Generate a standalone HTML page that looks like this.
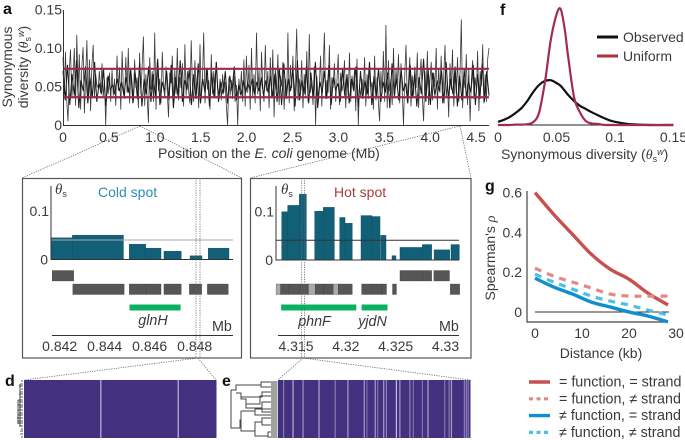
<!DOCTYPE html>
<html>
<head>
<meta charset="utf-8">
<title>Synonymous diversity figure</title>
<style>
html,body{margin:0;padding:0;background:#fff}
svg{display:block}
text{font-family:"Liberation Sans",sans-serif;fill:#3a3a3a}
.t{font-size:14px}
.s{font-size:14.3px}
.lt{font-size:16px;font-weight:bold;fill:#111}
.i{font-style:italic}
.dot{stroke:#666;stroke-width:.8;stroke-dasharray:1.2 1.2;fill:none}
</style>
</head>
<body>
<svg id="fig" xmlns="http://www.w3.org/2000/svg" width="685" height="440" viewBox="0 0 685 440">
  <g id="connectors">
    <path class="dot" d="M140,126L22,178"/>
    <path class="dot" d="M140,126L242,178"/>
    <path class="dot" d="M460,126L250,178"/>
    <path class="dot" d="M460,126L471,178"/>
    <path class="dot" d="M198,358L24,380"/>
    <path class="dot" d="M198,358L216,380"/>
    <path class="dot" d="M303,358L278,380"/>
    <path class="dot" d="M303,358L470,380"/>
  </g>

  <text class="lt" x="3" y="14">a</text>
  <text class="lt" x="500" y="15">f</text>
  <text class="lt" x="31" y="192">b</text>
  <text class="lt" x="256" y="192">c</text>
  <text class="lt" x="5" y="386">d</text>
  <text class="lt" x="222" y="386">e</text>
  <text class="lt" x="485" y="191">g</text>

  <g id="panelA">
    <text class="t" transform="translate(12,67) rotate(-90)" text-anchor="middle">Synonymous</text>
    <text class="t" transform="translate(28,67) rotate(-90)" text-anchor="middle">diversity (<tspan class="i" font-family="Liberation Serif">θ</tspan><tspan font-size="9" dy="3">s</tspan><tspan class="i" font-size="9" dy="-7">w</tspan><tspan dy="4">)</tspan></text>
    <text class="t" x="158" y="158">Position on the <tspan class="i">E. coli</tspan> genome (Mb)</text>
  </g>

  <g id="panelF">
    <text class="t" x="501" y="159">Synonymous diversity (<tspan class="i" font-family="Liberation Serif">θ</tspan><tspan font-size="9" dy="3">s</tspan><tspan class="i" font-size="9" dy="-7">w</tspan><tspan dy="4">)</tspan></text>
    <line x1="597" x2="618" y1="37" y2="37" stroke="#111" stroke-width="3"/>
    <text class="t" x="623" y="42">Observed</text>
    <line x1="597" x2="618" y1="56" y2="56" stroke="#ab3236" stroke-width="3"/>
    <text class="t" x="623" y="61">Uniform</text>
  </g>

  <g id="panelB">
    <rect x="22.5" y="178.5" width="219" height="179.5" fill="#fff" stroke="#555" stroke-width="1.2"/>
    <text x="98" y="197" font-size="14" style="fill:#2b8db0">Cold spot</text>
    <text x="55" y="194"><tspan class="i" font-size="15" font-family="Liberation Serif">θ</tspan><tspan font-size="9" dy="3">s</tspan></text>
    <text class="s" x="212" y="331">Mb</text>
    <text class="i s" x="153" y="325" text-anchor="middle">glnH</text>
  </g>

  <g id="panelC">
    <rect x="250.5" y="178.5" width="220.5" height="179.5" fill="#fff" stroke="#555" stroke-width="1.2"/>
    <text x="334" y="197" font-size="14" style="fill:#a83c3c">Hot spot</text>
    <text x="281" y="194"><tspan class="i" font-size="15" font-family="Liberation Serif">θ</tspan><tspan font-size="9" dy="3">s</tspan></text>
    <text class="s" x="439" y="331">Mb</text>
    <text class="i s" x="314.5" y="326" text-anchor="middle">phnF</text>
    <text class="i s" x="372.5" y="326" text-anchor="middle">yjdN</text>
  </g>

  <g id="panelD">
    <path d="M23,381H21M23,384H20M23,386H19M23,389H21M23,392H20M23,394H19M23,397H20M23,400H18M23,402H19M23,405H18M23,407H19M23,410H18M23,413H19M23,415H18M23,418H17M23,421H18M23,423H18M23,426H19M23,429H21M23,431H20M23,434H20M23,437H21M20,384V426M18,400V424" stroke="#222" stroke-width=".8" fill="none"/>
  </g>

  <g id="panelE">
    <path d="M231,390V428H240M231,390H236V385H261V382H272M261,385V387H272M236,393H241V397H262V392H272M241,397V399H246V404H260V396H272M246,404V408H262V402H272M262,408V412H272M240,428V420H241M241,411H255V415H272M241,411V431H255M255,415V409H272M255,431V422H262V418H272M262,422V425H272M255,431V436H268V432H272M268,436V437H272" stroke="#444" stroke-width="1" fill="none"/>
    <rect x="271" y="381" width="6.5" height="57" fill="#a2a2a2"/>
  </g>

  <g id="panelG">
    <text class="t" transform="translate(495,258) rotate(-90)" text-anchor="middle">Spearman's <tspan class="i" font-family="Liberation Serif">ρ</tspan></text>
    <text class="t" x="601" y="358" text-anchor="middle">Distance (kb)</text>
  </g>
</svg>

<script>
const NS = 'http://www.w3.org/2000/svg';

/* panel a */
const thetaTrack = [
88,40,95,30,5,72,98,35,60,100,25,117,45,92,20,75,101,15,60,110,
30,85,18,78,104,35,66,52,48,70,42,80,35,58,0,62,40,68,30,72,
38,60,25,90,45,75,20,96,50,34,88,42,100,28,70,55,30,85,48,62,
22,94,40,78,115,25,66,35,3,88,46,70,30,120,20,82,44,60,28,95,
50,35,76,42,10,68,54,90,26,72,40,100,32,62,48,80,24,105,38,70,
45,28,110,52,30,84,44,66,22,105,36,60,120,28,74,46,58,20,92,40,
70,35,82,48,40,60,32,66,42,56,25,0,62,38,58,34,64,30,52,0,
60,40,70,30,85,24,90,42,78,20,100,35,66,28,120,40,72,18,95,48,
30,104,44,70,22,88,36,98,10,74,46,92,26,64,50,82,20,60,34,120,
28,78,48,90,18,70,125,32,60,44,84,22,66,38,96,30,118,42,58,26,
76,0,64,36,52,90,24,70,120,34,58,42,104,20,62,48,80,30,56,92,
26,68,44,54,84,22,60,38,94,30,64,48,72,18,86,0,52,36,60,42,
88,24,66,34,78,46,56,20,90,32,62,28,5,70,40,96,30,130,22,84,
44,60,26,100,36,72,50,92,28,80,42,0,66,104,30,56,88,24,64,38,
76,48,94,22,60,86,34,5,70,44,96,26,58,82,32,68,50,100,20,74,
42,90,28,62,104,36,54,10,80,46,98,24,66,40,88,30,70,137,22,60,
48,92,26,74,5,58,84,34,62,44,96,18,70,50,105,28,66,30,86,100];
const thetaTrackWindowed = [
70,32,78,26,66,38,84,22,58,44,76,28,62,36,82,30,54,40,72,24,
64,46,52,40,60,44,56,38,62,42,74,28,68,34,80,24,60,40,76,30,
66,36,86,26,56,44,70,32,78,22,62,38,84,30,58,46,72,26,66,34,
80,28,60,42,74,24,68,36,82,30,56,40,70,28,64,44,76,32,52,38,
58,42,54,46,60,40,56,44,62,38,58,42,64,36,66,30,74,26,80,34,
60,44,72,24,84,32,58,40,76,28,68,36,82,22,56,42,70,34,78,26,
62,46,54,30,72,38,66,28,60,44,76,24,70,34,58,40,82,26,64,36,
74,30,56,42,68,22,80,38,60,32,72,44,54,28,78,36,66,24,62,40,
86,30,74,26,68,38,58,44,70,28,82,34,60,40,76,24,64,32,72,36,
56,42,78,26,66,34,80,30,70,38];
const thetaThresholds = [0.073, 0.036];
const genomeTicks = [0, 0.5, 1.0, 1.5, 2.0, 2.5, 3.0, 3.5, 4.0, 4.5];
const genomeTickLabels = ['0', '0.5', '1.0', '1.5', '2.0', '2.5', '3.0', '3.5', '4.0', '4.5'];
const thetaTicks = [0, 0.05, 0.10, 0.15];
const thetaTickLabels = ['0', '0.05', '0.10', '0.15'];
const genomeLengthMb = 4.64;

/* panel f */
const densityGrid = [0,0.005,0.01,0.015,0.02,0.025,0.03,0.035,0.04,0.045,0.05,0.0535,0.057,0.06,0.065,0.07,0.075,0.08,0.085,0.09,0.095,0.1,0.11,0.12,0.13,0.15];
const densityObserved = [0.8,1.3,2,3,4.2,6,8.2,10,11,11.2,10.5,9.8,8.6,7.5,6,4.8,4,3.2,2.5,1.8,1.2,0.8,0.3,0.1,0,0];
const densityUniform = [0,0,0,0.1,0.1,0.2,0.7,3,10.5,21,27.6,29,24,17,7,3.2,1,0.4,0.3,0.05,0,0,0,0,0,0];
const densityTicks = [0, 0.05, 0.1, 0.15];
const densityTickLabels = ['0', '0.05', '0.1', '0.15'];

/* panel b */
const coldBarStart = [0.84148,0.84243,0.84496,0.84569,0.84650,0.84766,0.84847];
const coldBarEnd = [0.84243,0.84470,0.84569,0.84637,0.84727,0.84819,0.84939];
const coldBarTheta = [0.0445,0.05,0.0315,0.0233,0.017,0.0075,0.0233];
const coldMean = 0.04;
const coldTicks = [0.842,0.844,0.846,0.848];
const coldTickLabels = ['0.842','0.844','0.846','0.848'];
const coldGeneStart = [0.84153,0.84245,0.84496,0.84570,0.84650,0.84763,0.84843];
const coldGeneEnd = [0.84249,0.84473,0.84570,0.84637,0.84727,0.84818,0.84936];
const coldGeneRow = [0,1,1,1,1,1,1];
const coldCdsStart = [0.84497];
const coldCdsEnd = [0.84724];

/* panel c */
const hotBarStart = [4.31326,4.31386,4.31503,4.31657,4.31744,4.31908,4.31962,4.32122,4.32232,4.32319,4.32433,4.32513,4.32737,4.32855,4.33025];
const hotBarEnd = [4.31386,4.31503,4.31574,4.31744,4.31855,4.31962,4.32035,4.32232,4.32313,4.32373,4.32473,4.32737,4.32831,4.33012,4.33109];
const hotBarTheta = [0.1,0.113,0.136,0.101,0.109,0.088,0.076,0.092,0.09,0.051,0.009,0.026,0.032,0.021,0.032];
const hotMean = 0.041;
const hotTicks = [4.315,4.32,4.325,4.33];
const hotTickLabels = ['4.315','4.32','4.325','4.33'];
const hotGeneStart = [4.31270,4.31315,4.31398,4.31518,4.31595,4.31662,4.31746,4.31843,4.31893,4.32128,4.32235,4.32328,4.32438,4.32513,4.32737,4.32853,4.33018];
const hotGeneEnd = [4.31315,4.31398,4.31518,4.31595,4.31662,4.31746,4.31843,4.31893,4.32035,4.32235,4.32328,4.32378,4.32478,4.32737,4.32831,4.33010,4.33112];
const hotGeneRow = [1,1,1,1,1,1,1,1,1,1,1,1,1,0,0,0,1];
const hotGeneLight = [1,0,0,0,1,0,0,1,0,0,0,0,0,0,0,0,0];
const hotCdsStart = [4.31321,4.32128];
const hotCdsEnd = [4.32075,4.32388];

/* panels d, e */
const coldSiteColumn = [39.6, 79.8];
const coldSiteStrength = [0.8, 0.8];
const hotSiteColumn = [2.6,7.5,12.7,21,29.4,36,44.5,45.9,50.2,51.5,54.6,56,61.2,63,68.2,70,74.7,77.6,86.3,88.6,89.8,96.5,97.5,98.5];
const hotSiteStrength = [0.45,0.75,0.6,0.7,0.45,0.65,0.65,0.35,0.65,0.4,0.65,0.5,0.85,0.65,0.5,0.4,0.4,0.7,0.4,0.45,0.65,0.45,0.5,0.45];

/* panel g */
const distanceKb = [0,4,8,12,16,20,24,28.3];
const rhoSameSame = [0.6,0.49,0.39,0.29,0.215,0.165,0.095,0.035];
const rhoSameDiff = [0.22,0.18,0.15,0.12,0.09,0.08,0.08,0.08];
const rhoDiffSame = [0.17,0.125,0.09,0.05,0.025,0.0,-0.02,-0.05];
const rhoDiffDiff = [0.19,0.15,0.115,0.08,0.055,0.035,0.01,-0.015];
const rhoTicks = [0,0.2,0.4,0.6];
const rhoTickLabels = ['0','0.2','0.4','0.6'];
const distanceTicks = [0,10,20,30];
const distanceTickLabels = ['0','10','20','30'];
const rhoLegendLabels = ['= function, = strand','= function, ≠ strand','≠ function, = strand','≠ function, ≠ strand'];

function mk(tag, attrs, parent, txt) {
  const e = document.createElementNS(NS, tag);
  for (const k in attrs) e.setAttribute(k, attrs[k]);
  if (txt !== undefined) e.textContent = txt;
  parent.appendChild(e);
  return e;
}
const $ = id => document.getElementById(id);

function smoothPath(pts) {
  let d = 'M' + pts[0][0].toFixed(1) + ',' + pts[0][1].toFixed(1);
  for (let i = 0; i < pts.length - 1; i++) {
    const p0 = pts[Math.max(i - 1, 0)], p1 = pts[i], p2 = pts[i + 1], p3 = pts[Math.min(i + 2, pts.length - 1)];
    const c1x = p1[0] + (p2[0] - p0[0]) / 6, c1y = p1[1] + (p2[1] - p0[1]) / 6;
    const c2x = p2[0] - (p3[0] - p1[0]) / 6, c2y = p2[1] - (p3[1] - p1[1]) / 6;
    d += 'C' + c1x.toFixed(1) + ',' + c1y.toFixed(1) + ' ' + c2x.toFixed(1) + ',' + c2y.toFixed(1) + ' ' + p2[0].toFixed(1) + ',' + p2[1].toFixed(1);
  }
  return d;
}

/* ---- panel a ---- */
const xA = mb => 63 + mb * 91.8;
const yA = v => 125 - v * 770;
{
  const p = $('panelA');
  const toPts = arr => arr.map((v, i) => xA(i / (arr.length - 1) * genomeLengthMb).toFixed(1) + ',' + yA(v / 1000).toFixed(1)).join(' ');
  let el = mk('polyline', {points: toPts(thetaTrack), fill: 'none', stroke: '#3a3a3a', 'stroke-width': 0.8}, p);
  
  
  el = mk('polyline', {points: toPts(thetaTrackWindowed), fill: 'none', stroke: '#1a1a1a', 'stroke-width': 1}, p);
  
  
  thetaThresholds.forEach(v => {
    const t = mk('line', {x1: xA(0), x2: xA(genomeLengthMb), y1: yA(v), y2: yA(v), stroke: '#9a2a52', 'stroke-width': 2.2}, p);
    
    
  });
  el = mk('path', {d: 'M63.5,10V125.5H' + xA(genomeLengthMb), fill: 'none', stroke: '#333', 'stroke-width': 1}, p);
  
  
  genomeTicks.forEach((v, i) => {
    const t = mk('text', {class: 't', x: xA(v), y: 142, 'text-anchor': 'middle'}, p, genomeTickLabels[i]);
    
    
  });
  thetaTicks.forEach((v, i) => {
    const t = mk('text', {class: 't', x: 62, y: yA(v) + 5, 'text-anchor': 'end'}, p, thetaTickLabels[i]);
    
    
  });
}

/* ---- panel f ---- */
const xF = v => 498 + v * 1170;
const yF = d => 125 - d * 4;
{
  const p = $('panelF');
  let el = mk('line', {x1: xF(0), x2: xF(0.15), y1: 125, y2: 125, stroke: '#222', 'stroke-width': 1}, p);
  
  
  const path = arr => smoothPath(arr.map((d, i) => [xF(densityGrid[i]), yF(d)]));
  el = mk('path', {d: path(densityObserved), fill: 'none', stroke: '#111', 'stroke-width': 2.2, 'stroke-linejoin': 'round'}, p);
  
  
  el = mk('path', {d: path(densityUniform), fill: 'none', stroke: '#a3295a', 'stroke-width': 2.2, 'stroke-linejoin': 'round'}, p);
  
  
  densityTicks.forEach((v, i) => {
    const t = mk('text', {class: 't', x: xF(v), y: 142, 'text-anchor': 'middle'}, p, densityTickLabels[i]);
    
    
  });
}

/* ---- panels b and c share a drawing routine ---- */
function zoomPanel(p, xS, opts) {
  const yS = v => opts.base - v * opts.yScale;
  opts.barStart.forEach((s, i) => {
    const b = mk('rect', {x: xS(s), y: yS(opts.barTheta[i]), width: xS(opts.barEnd[i]) - xS(s), height: opts.base - yS(opts.barTheta[i]), fill: '#125f78', stroke: '#0e4c60', 'stroke-width': 0.4}, p);
    
    
  });
  let el = mk('line', {x1: opts.axisX, x2: opts.axisEnd, y1: yS(opts.mean), y2: yS(opts.mean), stroke: opts.meanColor, 'stroke-width': 1}, p);
  
  
  el = mk('path', {d: 'M' + opts.axisX + ',' + opts.top + 'V' + opts.base + 'H' + opts.axisEnd, fill: 'none', stroke: '#333', 'stroke-width': 1}, p);
  
  
  el = mk('text', {class: 't', x: opts.axisX - 2, y: yS(0.1) + 5, 'text-anchor': 'end'}, p, '0.1');
  
  
  el = mk('text', {class: 't', x: opts.axisX - 3, y: opts.base + 5, 'text-anchor': 'end'}, p, '0');
  
  
  opts.geneStart.forEach((s, i) => {
    const fill = opts.geneLight && opts.geneLight[i] ? '#a9a9a9' : '#565656';
    const g = mk('rect', {x: xS(s), y: opts.rowY[opts.geneRow[i]], width: xS(opts.geneEnd[i]) - xS(s), height: 10.5, fill: fill, stroke: '#3a3a3a', 'stroke-width': 0.3}, p);
    
    
  });
  opts.cdsStart.forEach((s, i) => {
    const g = mk('rect', {x: xS(s), y: 304.5, width: xS(opts.cdsEnd[i]) - xS(s), height: 6, fill: '#0bb062'}, p);
    
    
  });
  el = mk('line', {x1: opts.scaleStart, x2: opts.axisEnd, y1: 335.5, y2: 335.5, stroke: '#333', 'stroke-width': 1}, p);
  
  
  opts.ticks.forEach((v, i) => {
    const t = mk('text', {class: 't', x: xS(v) - 3, y: 351, 'text-anchor': 'middle'}, p, opts.tickLabels[i]);
    
    
  });
  opts.dotted.forEach(x => {
    const d = mk('line', {class: 'dot', x1: x, x2: x, y1: 178, y2: 358}, p);
    
    
  });
}
zoomPanel($('panelB'), mb => 62.7 + (mb - 0.842) * 22500, {
  base: 259.5, top: 186, yScale: 487, axisX: 51, axisEnd: 233,
  barStart: coldBarStart, barEnd: coldBarEnd, barTheta: coldBarTheta,
  mean: coldMean, meanColor: '#aaa',
  geneStart: coldGeneStart, geneEnd: coldGeneEnd, geneRow: coldGeneRow, rowY: [270.5, 284],
  cdsStart: coldCdsStart, cdsEnd: coldCdsEnd,
  scaleStart: 52, ticks: coldTicks, tickLabels: coldTickLabels, dotted: [196, 200]
});
zoomPanel($('panelC'), mb => 299 + (mb - 4.315) * 9967, {
  base: 260, top: 186, yScale: 483, axisX: 276, axisEnd: 459,
  barStart: hotBarStart, barEnd: hotBarEnd, barTheta: hotBarTheta,
  mean: hotMean, meanColor: '#333',
  geneStart: hotGeneStart, geneEnd: hotGeneEnd, geneRow: hotGeneRow, geneLight: hotGeneLight, rowY: [270.5, 284],
  cdsStart: hotCdsStart, cdsEnd: hotCdsEnd,
  scaleStart: 278, ticks: hotTicks, tickLabels: hotTickLabels, dotted: [301.7, 304.5]
});

/* ---- panels d, e ---- */
function alignment(p, x0, w, cols, strengths) {
  const xS = c => x0 + c / 100 * w;
  const bg = mk('rect', {x: x0, y: 380, width: w, height: 58, fill: '#43307e'}, p);
  
  
  cols.forEach((c, i) => {
    const s = mk('rect', {x: xS(c), y: 380, width: 1.2, height: 58, fill: '#dcd8f0', opacity: strengths[i]}, p);
    
    
  });
}
alignment($('panelD'), 24, 192.5, coldSiteColumn, coldSiteStrength);
alignment($('panelE'), 278, 192.5, hotSiteColumn, hotSiteStrength);

/* ---- panel g ---- */
const xG = kb => 535 + kb * 4.7;
const yG = r => 312 - r * 199;
const rhoStyles = [
  {c: '#c9504f', w: 3.4, dash: ''},
  {c: '#e08a86', w: 3.2, dash: '7 6'},
  {c: '#0f8fd0', w: 3.4, dash: ''},
  {c: '#4dc0e6', w: 3.2, dash: '7 6'}
];
{
  const p = $('panelG');
  let el = mk('path', {d: 'M527,191V322H668', fill: 'none', stroke: '#444', 'stroke-width': 1.2}, p);
  
  
  el = mk('line', {x1: xG(0), x2: 669, y1: yG(0), y2: yG(0), stroke: '#333', 'stroke-width': 1}, p);
  
  
  [rhoSameSame, rhoSameDiff, rhoDiffDiff, rhoDiffSame].forEach((arr) => {
    const st = arr === rhoSameSame ? rhoStyles[0] : arr === rhoSameDiff ? rhoStyles[1] : arr === rhoDiffSame ? rhoStyles[2] : rhoStyles[3];
    const l = mk('path', {d: smoothPath(arr.map((r, i) => [xG(distanceKb[i]), yG(r)])), fill: 'none', stroke: st.c, 'stroke-width': st.w, 'stroke-dasharray': st.dash}, p);
    
    
  });
  rhoTicks.forEach((v, i) => {
    const t = mk('text', {class: 't', x: 522, y: yG(v) + 5, 'text-anchor': 'end'}, p, rhoTickLabels[i]);
    
    
  });
  distanceTicks.forEach((v, i) => {
    const t = mk('text', {class: 't', x: xG(v), y: 338, 'text-anchor': 'middle'}, p, distanceTickLabels[i]);
    
    
  });
  rhoLegendLabels.forEach((s, i) => {
    const y = 382 + i * 16.8;
    const sw = mk('line', {x1: 529, x2: 550, y1: y, y2: y, stroke: rhoStyles[i].c, 'stroke-width': rhoStyles[i].w, 'stroke-dasharray': rhoStyles[i].dash ? '4 3.5' : ''}, p);
    
    
    const t = mk('text', {class: 's', x: 559, y: y + 4.5}, p, s);
    
    
  });
}
</script>
</body>
</html>
